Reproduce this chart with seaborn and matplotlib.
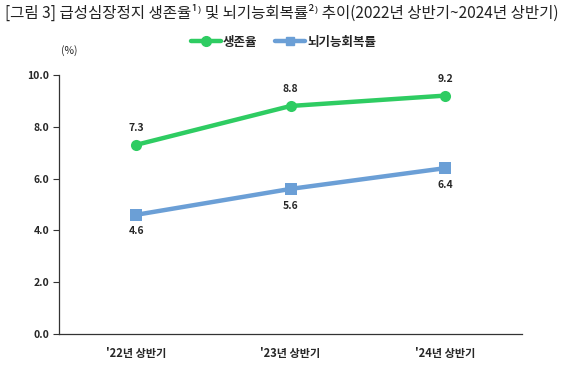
import numpy as np
import pandas as pd
import seaborn as sns
import matplotlib
matplotlib.use('Agg')
import matplotlib.pyplot as plt
from matplotlib.lines import Line2D

# 데이터
periods = ["'22년 상반기", "'23년 상반기", "'24년 상반기"]
survival = [7.3, 8.8, 9.2]      # 생존율
recovery = [4.6, 5.6, 6.4]      # 뇌기능회복률
series_names = ['생존율', '뇌기능회복률']
yticks = [0.0, 2.0, 4.0, 6.0, 8.0, 10.0]

green = '#2ecc62'
blue = '#6b9fd6'

sns.set_theme(style='white')
plt.rcParams['font.family'] = ['Noto Sans CJK KR', 'DejaVu Sans']
plt.rcParams['axes.unicode_minus'] = False

df = pd.DataFrame({
    '기간': periods * 2,
    '값': survival + recovery,
    '구분': [series_names[0]] * 3 + [series_names[1]] * 3,
})

fig = plt.figure(figsize=(5.67, 3.66), dpi=100)
ax = fig.add_axes([0.104, 0.0874, 0.817, 0.708])

sns.lineplot(data=df, x='기간', y='값', hue='구분', style='구분',
             palette=[green, blue], markers=['o', 's'], dashes=False,
             linewidth=3.2, markersize=8, markeredgewidth=0, legend=False, ax=ax)

# 데이터 레이블
for i, v in enumerate(survival):
    ax.text(i, v + 0.45, '%.1f' % v, ha='center', va='bottom', fontsize=7.5, fontweight='bold')
for i, v in enumerate(recovery):
    ax.text(i, v - 0.45, '%.1f' % v, ha='center', va='top', fontsize=7.5, fontweight='bold')

ax.set_xlim(-0.5, 2.5)
ax.set_ylim(0, 10)
ax.set_yticks(yticks)
ax.set_yticklabels(['%.1f' % t for t in yticks], fontsize=7.5, fontweight='bold')
ax.set_xticks(range(3))
ax.set_xticklabels(periods, fontsize=8, fontweight='bold')
ax.set_xticks([0.5, 1.5, 2.5], minor=True)
ax.tick_params(axis='x', which='major', length=0, pad=9)
ax.tick_params(axis='x', which='minor', direction='in', length=3, width=0.8, color='#333333')
ax.tick_params(axis='y', which='major', direction='out', length=4, width=0.8, color='#333333', pad=3, left=True)
ax.set_xlabel('')
ax.set_ylabel('')
for s in ['top', 'right']:
    ax.spines[s].set_visible(False)
for s in ['left', 'bottom']:
    ax.spines[s].set_color('#333333')
    ax.spines[s].set_linewidth(0.9)

# 범례
handles = [Line2D([], [], color=green, lw=3.2, marker='o', markersize=7),
           Line2D([], [], color=blue, lw=3.2, marker='s', markersize=6)]
leg = fig.legend(handles, series_names, loc='center', bbox_to_anchor=(0.5, 0.885),
                 ncol=2, frameon=False, handlelength=2.4, handletextpad=0.2,
                 columnspacing=1.4, prop={'size': 9, 'weight': 'bold'})

fig.text(0.123, 0.862, '(%)', fontsize=7.5, ha='center', va='center')

# 제목
fig.text(0.008, 0.965, '[그림 3] 급성심장정지 생존율¹⁾ 및 뇌기능회복률²⁾ 추이(2022년 상반기~2024년 상반기)',
         fontsize=11.2, ha='left', va='center', color='#222222')

fig.savefig('out.png', dpi=100)
